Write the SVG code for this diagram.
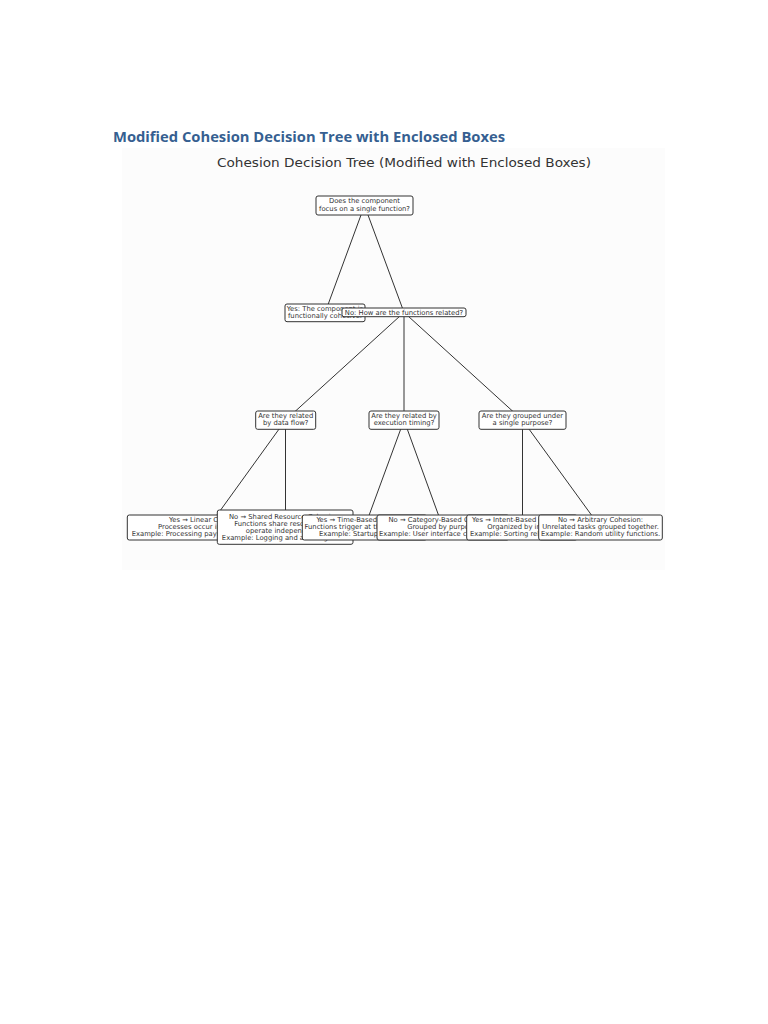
<svg xmlns="http://www.w3.org/2000/svg" width="768" height="1024" viewBox="0 0 768 1024">
<style>
.box{fill:#fff;stroke:#333;stroke-width:1}
.t{font-family:"DejaVu Sans",sans-serif;font-size:6.8px;fill:#333;text-anchor:middle}
.edge{stroke:#333;stroke-width:1;fill:none}
</style>
<rect width="768" height="1024" fill="#fff"/>
<text x="113" y="141.5" font-family="'Open Sans',sans-serif" font-weight="700" font-size="14.5" fill="#365F91" textLength="392" lengthAdjust="spacingAndGlyphs">Modified Cohesion Decision Tree with Enclosed Boxes</text>
<rect x="122" y="148" width="543" height="422" fill="#fcfcfc"/>
<text x="404" y="167" font-family="'DejaVu Sans',sans-serif" font-size="12.5" fill="#333" text-anchor="middle" textLength="374" lengthAdjust="spacingAndGlyphs">Cohesion Decision Tree (Modified with Enclosed Boxes)</text>
<g id="connectors">
<line class="edge" x1="364.5" y1="205.5" x2="325" y2="312.85"/>
<line class="edge" x1="364.5" y1="205.5" x2="404" y2="312.35"/>
<line class="edge" x1="404" y1="312.35" x2="285.5" y2="420.15"/>
<line class="edge" x1="404" y1="312.35" x2="404" y2="420.15"/>
<line class="edge" x1="404" y1="312.35" x2="522.5" y2="420.15"/>
<line class="edge" x1="285.5" y1="420.15" x2="208" y2="527.5"/>
<line class="edge" x1="285.5" y1="420.15" x2="285.5" y2="527.15"/>
<line class="edge" x1="404" y1="420.15" x2="364.6" y2="527.5"/>
<line class="edge" x1="404" y1="420.15" x2="443" y2="527.5"/>
<line class="edge" x1="522.5" y1="420.15" x2="522.5" y2="527.5"/>
<line class="edge" x1="522.5" y1="420.15" x2="600.5" y2="527.5"/>
</g>
<g id="root">
<rect class="box" x="316" y="196" width="97" height="19" rx="2"/>
<text class="t"><tspan x="364.5" y="203.35">Does the component</tspan><tspan x="364.5" y="210.65">focus on a single function?</tspan></text>
</g>
<g id="yes-functional">
<rect class="box" x="285" y="304" width="80" height="17.7" rx="2"/>
<text class="t"><tspan x="325" y="310.7">Yes: The component is</tspan><tspan x="325" y="318">functionally cohesive.</tspan></text>
</g>
<g id="no-related">
<rect class="box" x="342" y="308" width="124" height="8.7" rx="2"/>
<text class="t" x="404" y="314.5">No: How are the functions related?</text>
</g>
<g id="q-dataflow">
<rect class="box" x="255.7" y="411" width="60" height="18.3" rx="2"/>
<text class="t"><tspan x="285.7" y="417.9">Are they related</tspan><tspan x="285.7" y="425.2">by data flow?</tspan></text>
</g>
<g id="q-timing">
<rect class="box" x="369" y="411" width="70" height="18.3" rx="2"/>
<text class="t"><tspan x="404" y="417.9">Are they related by</tspan><tspan x="404" y="425.2">execution timing?</tspan></text>
</g>
<g id="q-purpose">
<rect class="box" x="479" y="411" width="87" height="18.3" rx="2"/>
<text class="t"><tspan x="522.5" y="417.9">Are they grouped under</tspan><tspan x="522.5" y="425.2">a single purpose?</tspan></text>
</g>
<g id="leaf-linear">
<rect class="box" x="127.3" y="515" width="161.4" height="25" rx="2"/>
<text class="t"><tspan x="208" y="521.7">Yes → Linear Cohesion:</tspan><tspan x="208" y="529">Processes occur in sequence.</tspan><tspan x="208" y="536.3">Example: Processing payment and invoicing.</tspan></text>
</g>
<g id="leaf-shared">
<rect class="box" x="217.3" y="510" width="135.7" height="34.3" rx="2"/>
<text class="t"><tspan x="285.15" y="518.5">No → Shared Resource Cohesion:</tspan><tspan x="285.15" y="525.7">Functions share resources but</tspan><tspan x="285.15" y="532.9">operate independently.</tspan><tspan x="285.15" y="540.1">Example: Logging and auditing tools.</tspan></text>
</g>
<g id="leaf-time">
<rect class="box" x="302.3" y="515" width="124.6" height="25" rx="2"/>
<text class="t"><tspan x="364.6" y="521.7">Yes → Time-Based Cohesion:</tspan><tspan x="364.6" y="529">Functions trigger at the same time.</tspan><tspan x="364.6" y="536.3">Example: Startup routines.</tspan></text>
</g>
<g id="leaf-category">
<rect class="box" x="377" y="515" width="132" height="25" rx="2"/>
<text class="t"><tspan x="443" y="521.7">No → Category-Based Cohesion:</tspan><tspan x="443" y="529">Grouped by purpose.</tspan><tspan x="443" y="536.3">Example: User interface components.</tspan></text>
</g>
<g id="leaf-intent">
<rect class="box" x="466.7" y="515" width="110.6" height="25" rx="2"/>
<text class="t"><tspan x="522" y="521.7">Yes → Intent-Based Cohesion:</tspan><tspan x="522" y="529">Organized by intent.</tspan><tspan x="522" y="536.3">Example: Sorting related data.</tspan></text>
</g>
<g id="leaf-arbitrary">
<rect class="box" x="538.7" y="515" width="123.6" height="25" rx="2"/>
<text class="t"><tspan x="600.5" y="521.7">No → Arbitrary Cohesion:</tspan><tspan x="600.5" y="529">Unrelated tasks grouped together.</tspan><tspan x="600.5" y="536.3">Example: Random utility functions.</tspan></text>
</g>
</svg>
